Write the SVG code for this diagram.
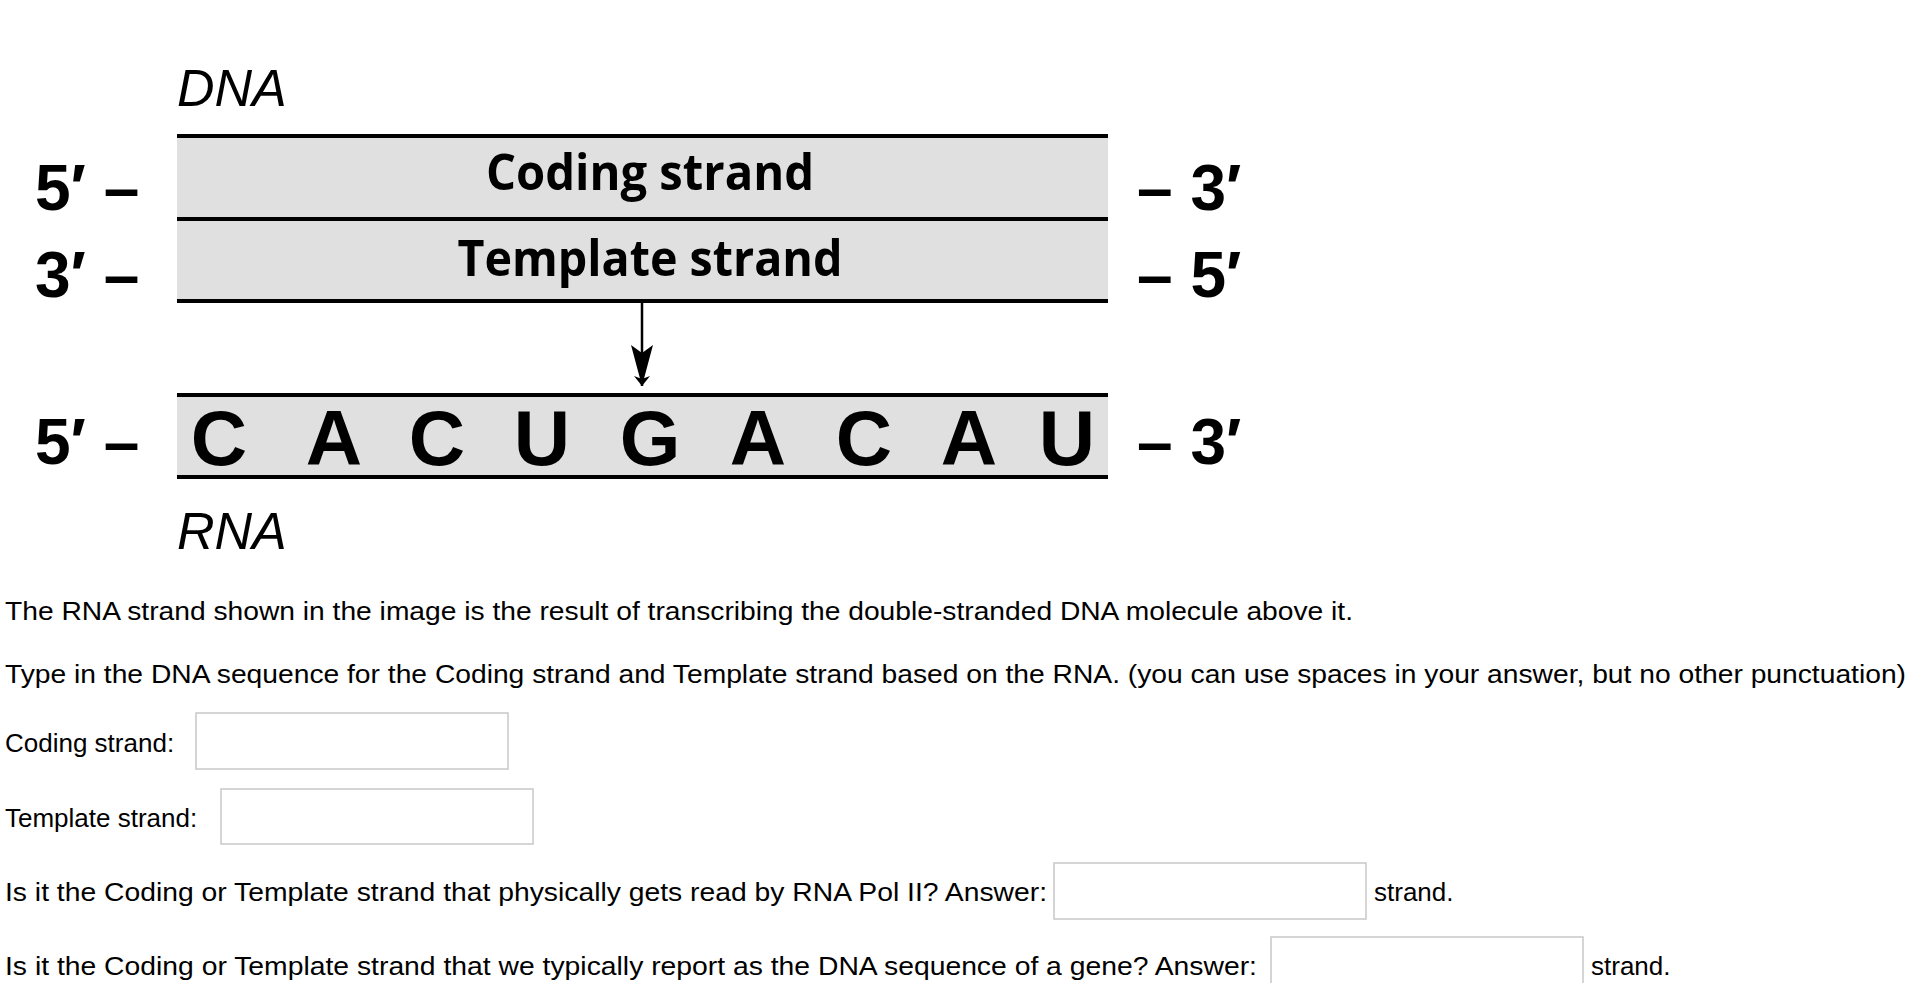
<svg xmlns="http://www.w3.org/2000/svg" width="1924" height="983" viewBox="0 0 1924 983">
<style>
.lab{font-family:"Liberation Sans",Arial,sans-serif;font-style:italic;font-size:52px;fill:#000}
.end{font-family:"Liberation Sans",Arial,sans-serif;font-weight:bold;font-size:64px;fill:#000}
.str{font-family:"Open Sans","Liberation Sans",sans-serif;font-weight:bold;font-size:50px;text-anchor:middle;fill:#000}
.nuc{font-family:"Liberation Sans",Arial,sans-serif;font-weight:bold;font-size:78px;text-anchor:middle;fill:#000}
.q{font-family:"Liberation Sans",Arial,sans-serif;font-size:26px;fill:#000}
.box{fill:#fff;stroke:#c8c8c8;stroke-width:1.5}
.ln{stroke:#000;stroke-width:4}
</style>
<defs><marker id="ah" markerWidth="10" markerHeight="16" refX="10" refY="8" orient="auto" markerUnits="userSpaceOnUse"><path d="M0,0 L10,8 L0,16 L3,8 Z" fill="#000" transform="scale(1)"/></marker></defs>
<rect width="1924" height="983" fill="#fff"/>
<g id="dna">
<text class="lab" x="177" y="106">DNA</text>
<rect x="177" y="136" width="931" height="165" fill="#e0e0e0"/>
<line class="ln" x1="177" y1="136" x2="1108" y2="136"/>
<line class="ln" x1="177" y1="219" x2="1108" y2="219"/>
<line class="ln" x1="177" y1="301" x2="1108" y2="301"/>
<text class="str" x="650" y="190" textLength="328" lengthAdjust="spacingAndGlyphs">Coding strand</text>
<text class="str" x="650" y="276" textLength="385" lengthAdjust="spacingAndGlyphs">Template strand</text>
<text class="end" x="35" y="210">5′ –</text>
<text class="end" x="35" y="297">3′ –</text>
<text class="end" x="1137" y="210">– 3′</text>
<text class="end" x="1137" y="297">– 5′</text>
</g>
<g id="connectors">
<line x1="642" y1="301" x2="642" y2="386" stroke="#000" stroke-width="2.5" marker-end="url(#ah)"/>
<path d="M631,345 L642,386 L653,345 L642,353 Z" fill="#000"/>
</g>
<g id="rna">
<rect x="177" y="395" width="931" height="82" fill="#e0e0e0"/>
<line class="ln" x1="177" y1="395" x2="1108" y2="395"/>
<line class="ln" x1="177" y1="477" x2="1108" y2="477"/>
<text class="nuc" x="219" y="465">C</text>
<text class="nuc" x="334" y="465">A</text>
<text class="nuc" x="437" y="465">C</text>
<text class="nuc" x="542" y="465">U</text>
<text class="nuc" x="650" y="465">G</text>
<text class="nuc" x="758" y="465">A</text>
<text class="nuc" x="864" y="465">C</text>
<text class="nuc" x="969" y="465">A</text>
<text class="nuc" x="1067" y="465">U</text>
<text class="end" x="35" y="464">5′ –</text>
<text class="end" x="1137" y="464">– 3′</text>
<text class="lab" x="177" y="549">RNA</text>
</g>
<g id="questions">
<text class="q" x="5" y="620" textLength="1348" lengthAdjust="spacingAndGlyphs">The RNA strand shown in the image is the result of transcribing the double-stranded DNA molecule above it.</text>
<text class="q" x="5" y="683" textLength="1901" lengthAdjust="spacingAndGlyphs">Type in the DNA sequence for the Coding strand and Template strand based on the RNA. (you can use spaces in your answer, but no other punctuation)</text>
<text class="q" x="5" y="752">Coding strand:</text>
<rect class="box" x="196" y="713" width="312" height="56"/>
<text class="q" x="5" y="827">Template strand:</text>
<rect class="box" x="221" y="789" width="312" height="55"/>
<text class="q" x="5" y="901" textLength="1042" lengthAdjust="spacingAndGlyphs">Is it the Coding or Template strand that physically gets read by RNA Pol II? Answer:</text>
<rect class="box" x="1054" y="863" width="312" height="56"/>
<text class="q" x="1374" y="901">strand.</text>
<text class="q" x="5" y="975" textLength="1252" lengthAdjust="spacingAndGlyphs">Is it the Coding or Template strand that we typically report as the DNA sequence of a gene? Answer:</text>
<rect class="box" x="1271" y="937" width="312" height="60"/>
<text class="q" x="1591" y="975">strand.</text>
</g>
</svg>
